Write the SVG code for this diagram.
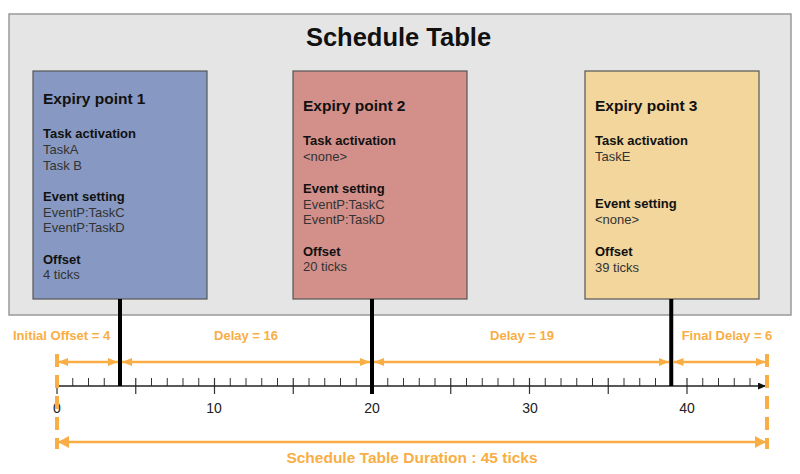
<svg xmlns="http://www.w3.org/2000/svg" width="800" height="474" viewBox="0 0 800 474">
<defs>
<style>
text{font-family:"Liberation Sans",Arial,sans-serif}
.title{font-size:25.5px;font-weight:bold;fill:#111}
.h{font-size:15.5px;font-weight:bold;fill:#111}
.s{font-size:13px;font-weight:bold;fill:#111}
.v{font-size:13px;fill:#333}
.box{stroke:#555;stroke-width:1.2}
.olab{font-size:13px;font-weight:bold;fill:#F9AE45}
.dur{font-size:15.5px;font-weight:bold;fill:#F9AE45;text-anchor:middle}
.num{font-size:14px;fill:#222;text-anchor:middle}
.dim{stroke:#F9AE45;stroke-width:2.5;fill:none}
.exp{stroke:#000;stroke-width:4}
</style>
<marker id="oa" viewBox="0 0 10 8" refX="10" refY="4" markerWidth="10" markerHeight="8" markerUnits="userSpaceOnUse" orient="auto-start-reverse"><path d="M0,0L10,4L0,8z" fill="#F9AE45"/></marker>
<marker id="ob" viewBox="0 0 11 12" refX="11" refY="6" markerWidth="11" markerHeight="12" markerUnits="userSpaceOnUse" orient="auto-start-reverse"><path d="M0,0L11,6L0,12z" fill="#F9AE45"/></marker>
<marker id="ka" viewBox="0 0 8 7" refX="8" refY="3.5" markerWidth="8" markerHeight="7" markerUnits="userSpaceOnUse" orient="auto"><path d="M0,0L8,3.5L0,7z" fill="#111"/></marker>
</defs>
<rect width="800" height="474" fill="#fff"/>
<g id="schedule-table">
<rect x="9" y="14" width="782" height="301" fill="#e5e5e5" stroke="#999" stroke-width="1.5"/>
<text class="title" x="398.5" y="46" text-anchor="middle">Schedule Table</text>
</g>
<g id="expiry-point-1">
<rect class="box" x="33" y="71" width="174" height="228" fill="#8799c2"/>
<text class="h" x="43" y="104">Expiry point 1</text>
<text class="s" x="43" y="138">Task activation</text>
<text class="v" x="43" y="154">TaskA</text>
<text class="v" x="43" y="170">Task B</text>
<text class="s" x="43" y="201">Event setting</text>
<text class="v" x="43" y="217">EventP:TaskC</text>
<text class="v" x="43" y="232">EventP:TaskD</text>
<text class="s" x="43" y="264">Offset</text>
<text class="v" x="43" y="279">4 ticks</text>
</g>
<g id="expiry-point-2">
<rect class="box" x="293" y="71" width="174" height="228" fill="#d3908a"/>
<text class="h" x="303" y="111">Expiry point 2</text>
<text class="s" x="303" y="145">Task activation</text>
<text class="v" x="303" y="161">&lt;none&gt;</text>
<text class="s" x="303" y="193">Event setting</text>
<text class="v" x="303" y="209">EventP:TaskC</text>
<text class="v" x="303" y="224">EventP:TaskD</text>
<text class="s" x="303" y="256">Offset</text>
<text class="v" x="303" y="271">20 ticks</text>
</g>
<g id="expiry-point-3">
<rect class="box" x="585" y="71" width="174" height="228" fill="#f2d69c"/>
<text class="h" x="595" y="111">Expiry point 3</text>
<text class="s" x="595" y="145">Task activation</text>
<text class="v" x="595" y="161">TaskE</text>
<text class="s" x="595" y="208">Event setting</text>
<text class="v" x="595" y="224">&lt;none&gt;</text>
<text class="s" x="595" y="256">Offset</text>
<text class="v" x="595" y="272">39 ticks</text>
</g>
<g id="timeline">
<path d="M72.75 378V386M88.5 378V386M104.25 378V386M120 378V386M151.5 378V386M167.25 378V386M183 378V386M198.75 378V386M230.25 378V386M246 378V386M261.75 378V386M277.5 378V386M309 378V386M324.75 378V386M340.5 378V386M356.25 378V386M387.75 378V386M403.5 378V386M419.25 378V386M435 378V386M466.5 378V386M482.25 378V386M498 378V386M513.75 378V386M545.25 378V386M561 378V386M576.75 378V386M592.5 378V386M624 378V386M639.75 378V386M655.5 378V386M671.25 378V386M702.75 378V386M718.5 378V386M734.25 378V386M750 378V386" stroke="#333" stroke-width="1"/>
<path d="M57 386V394M135.75 378V394M214.5 378V394M293.25 378V394M372 378V394M450.75 378V394M529.5 378V394M608.25 378V394M687 378V394" stroke="#333" stroke-width="1.2"/>
<line x1="57" y1="386" x2="766" y2="386" stroke="#222" stroke-width="1.5" marker-end="url(#ka)"/>
<text class="num" x="57" y="413">0</text>
<text class="num" x="214" y="413">10</text>
<text class="num" x="372" y="413">20</text>
<text class="num" x="530" y="413">30</text>
<text class="num" x="687" y="413">40</text>
<line x1="57" y1="354" x2="57" y2="449" stroke="#F9AE45" stroke-width="4" stroke-dasharray="13 8"/>
<line x1="767" y1="354" x2="767" y2="449" stroke="#F9AE45" stroke-width="4" stroke-dasharray="13 8"/>
<text class="olab" x="13" y="340">Initial Offset = 4</text>
<text class="olab" x="246" y="340" text-anchor="middle">Delay = 16</text>
<text class="olab" x="522" y="340" text-anchor="middle">Delay = 19</text>
<text class="olab" x="727" y="340" text-anchor="middle">Final Delay = 6</text>
<text class="dur" x="412" y="463">Schedule Table Duration : 45 ticks</text>
</g>
<g id="connectors">
<line class="exp" x1="120" y1="299" x2="120" y2="386"/>
<line class="exp" x1="372" y1="299" x2="372" y2="394"/>
<line class="exp" x1="671.25" y1="299" x2="671.25" y2="386"/>
<line class="dim" x1="58" y1="362" x2="118" y2="362" marker-start="url(#oa)" marker-end="url(#oa)"/>
<line class="dim" x1="122" y1="362" x2="370" y2="362" marker-start="url(#oa)" marker-end="url(#oa)"/>
<line class="dim" x1="374" y1="362" x2="669" y2="362" marker-start="url(#oa)" marker-end="url(#oa)"/>
<line class="dim" x1="673.5" y1="362" x2="766" y2="362" marker-start="url(#oa)" marker-end="url(#oa)"/>
<line class="dim" x1="58" y1="442" x2="766" y2="442" stroke-width="3" marker-start="url(#ob)" marker-end="url(#ob)"/>
</g>
</svg>
